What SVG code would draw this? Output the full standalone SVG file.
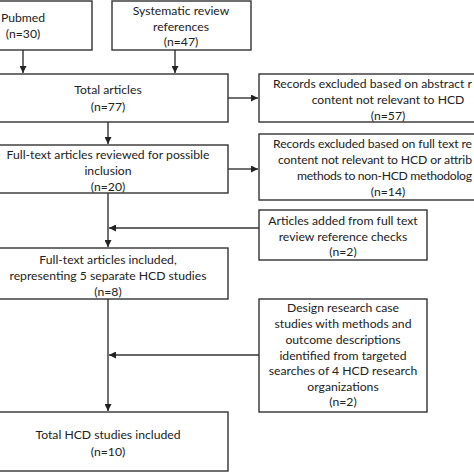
<svg xmlns="http://www.w3.org/2000/svg" width="474" height="474" viewBox="0 0 474 474">
<defs>
<marker id="ah" viewBox="0 0 10 10" refX="10" refY="5" markerWidth="7" markerHeight="7" orient="auto" markerUnits="userSpaceOnUse">
<path d="M0,0 L10,5 L0,10 z" fill="#222"/>
</marker>
<style>
.box{fill:#fff;stroke:#333;stroke-width:1.4}
.t{font-family:Lato,"Open Sans",sans-serif;font-size:12.2px;fill:#222;text-anchor:middle}
.s{text-anchor:start}
.c{fill:none;stroke:#333;stroke-width:1.4}
</style>
</defs>
<rect width="474" height="474" fill="#fff"/>
<g id="pubmed"><rect class="box" x="-46" y="1" width="138" height="49"/>
<text class="t" x="23" y="22">Pubmed</text><text class="t" x="23" y="38">(n=30)</text></g>
<g id="systematic"><rect class="box" x="112" y="1" width="139" height="49"/>
<text class="t" x="181" y="15">Systematic review</text><text class="t" x="181" y="31">references</text><text class="t" x="181" y="46">(n=47)</text></g>
<g id="total"><rect class="box" x="-12" y="74" width="240" height="48"/>
<text class="t" x="108" y="94">Total articles</text><text class="t" x="108" y="111">(n=77)</text></g>
<g id="excl1"><rect class="box" x="259" y="74" width="258" height="48"/>
<text class="t s" x="273" y="88" textLength="199" lengthAdjust="spacing">Records excluded based on abstract r</text><text class="t" x="388" y="104">content not relevant to HCD</text><text class="t" x="388" y="120">(n=57)</text></g>
<g id="fulltext"><rect class="box" x="-12" y="145" width="240" height="48"/>
<text class="t" x="108" y="159">Full-text articles reviewed for possible</text><text class="t" x="108" y="175">inclusion</text><text class="t" x="108" y="191">(n=20)</text></g>
<g id="excl2"><rect class="box" x="259" y="134" width="258" height="66"/>
<text class="t s" x="273" y="148" textLength="199" lengthAdjust="spacing">Records excluded based on full text re</text><text class="t s" x="278" y="164" textLength="194" lengthAdjust="spacing">content not relevant to HCD or attrib</text><text class="t s" x="297" y="180" textLength="175" lengthAdjust="spacing">methods to non-HCD methodolog</text><text class="t" x="388" y="196">(n=14)</text></g>
<g id="added"><rect class="box" x="259" y="210" width="168" height="50"/>
<text class="t" x="343" y="225">Articles added from full text</text><text class="t" x="343" y="241">review reference checks</text><text class="t" x="343" y="256">(n=2)</text></g>
<g id="included"><rect class="box" x="-12" y="248" width="240" height="51"/>
<text class="t" x="108" y="264">Full-text articles included,</text><text class="t" x="108" y="280">representing 5 separate HCD studies</text><text class="t" x="108" y="296">(n=8)</text></g>
<g id="design"><rect class="box" x="259" y="299" width="168" height="113"/>
<text class="t" x="343" y="312">Design research case</text><text class="t" x="343" y="328">studies with methods and</text><text class="t" x="343" y="344">outcome descriptions</text><text class="t" x="343" y="360">identified from targeted</text><text class="t" x="343" y="375">searches of 4 HCD research</text><text class="t" x="343" y="391">organizations</text><text class="t" x="343" y="406">(n=2)</text></g>
<g id="totalhcd"><rect class="box" x="-12" y="412" width="240" height="59"/>
<text class="t" x="108" y="439">Total HCD studies included</text><text class="t" x="108" y="456">(n=10)</text></g>
<g id="connectors">
<line class="c" x1="23" y1="50" x2="23" y2="73" marker-end="url(#ah)"/>
<line class="c" x1="175" y1="50" x2="175" y2="73" marker-end="url(#ah)"/>
<line class="c" x1="228" y1="98" x2="258" y2="98" marker-end="url(#ah)"/>
<line class="c" x1="108" y1="122" x2="108" y2="144" marker-end="url(#ah)"/>
<line class="c" x1="228" y1="169" x2="258" y2="169" marker-end="url(#ah)"/>
<line class="c" x1="108" y1="193" x2="108" y2="247" marker-end="url(#ah)"/>
<line class="c" x1="259" y1="228" x2="109" y2="228" marker-end="url(#ah)"/>
<line class="c" x1="108" y1="299" x2="108" y2="411" marker-end="url(#ah)"/>
<line class="c" x1="259" y1="355" x2="109" y2="355" marker-end="url(#ah)"/>
</g>
</svg>
